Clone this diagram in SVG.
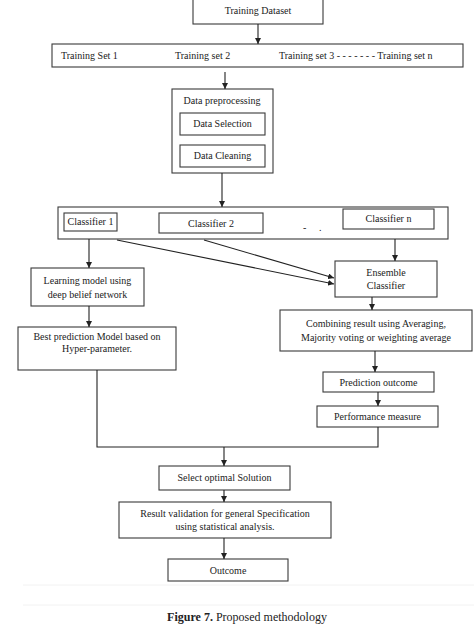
<svg xmlns="http://www.w3.org/2000/svg" width="474" height="642" viewBox="0 0 474 642">
<defs>
<marker id="ah" viewBox="0 0 10 10" refX="10" refY="5" markerWidth="6" markerHeight="6" markerUnits="userSpaceOnUse" orient="auto">
<path d="M0,0 L10,5 L0,10 z" fill="#222"/>
</marker>
<style>
.b{fill:#fff;stroke:#3a3a3a;stroke-width:1.1}
.t{font-family:"Liberation Serif","Times New Roman",serif;font-size:10px;fill:#222}
.m{text-anchor:middle}
.c{fill:none;stroke:#222;stroke-width:1.1}
.a{fill:none;stroke:#222;stroke-width:1.1;marker-end:url(#ah)}
</style>
</defs>
<rect width="474" height="642" fill="#fff"/>
<g id="training-dataset"><rect class="b" x="193" y="-2" width="130" height="26"/><text class="t m" x="258" y="14">Training Dataset</text></g>
<g id="training-sets"><rect class="b" x="52" y="44" width="411" height="23"/>
<text class="t" x="61" y="59">Training Set 1</text>
<text class="t" x="175" y="59">Training set 2</text>
<text class="t" x="279" y="59">Training set 3 - - - - - - - Training set n</text></g>
<g id="data-preprocessing"><rect class="b" x="172" y="89" width="101" height="84"/>
<text class="t m" x="222" y="104">Data preprocessing</text>
<rect class="b" x="180" y="113" width="85" height="22"/><text class="t m" x="222.5" y="127">Data Selection</text>
<rect class="b" x="180" y="145" width="85" height="22"/><text class="t m" x="222.5" y="159">Data Cleaning</text></g>
<g id="classifiers"><rect class="b" x="58" y="207" width="390" height="32"/>
<rect class="b" x="64" y="213" width="53" height="18"/><text class="t m" x="90.5" y="225">Classifier 1</text>
<rect class="b" x="159" y="213" width="104" height="20"/><text class="t m" x="211" y="227">Classifier 2</text>
<text class="t" x="303" y="231">-</text><text class="t" x="319" y="231">.</text>
<rect class="b" x="343" y="209" width="91" height="20"/><text class="t m" x="388.5" y="222">Classifier n</text></g>
<g id="learning-model"><rect class="b" x="31" y="268" width="113" height="38"/>
<text class="t m" x="87.5" y="284">Learning model using</text><text class="t m" x="87.5" y="298">deep belief network</text></g>
<g id="ensemble"><rect class="b" x="335" y="261" width="102" height="36"/>
<text class="t m" x="386" y="276">Ensemble</text><text class="t m" x="386" y="289">Classifier</text></g>
<g id="best-prediction"><rect class="b" x="18" y="327" width="158" height="43"/>
<text class="t m" x="97" y="340">Best prediction Model based on</text><text class="t m" x="97" y="352">Hyper-parameter.</text></g>
<g id="combining"><rect class="b" x="280" y="310" width="192" height="41"/>
<text class="t m" x="376" y="327">Combining result using Averaging,</text><text class="t m" x="376" y="341">Majority voting or weighting average</text></g>
<g id="prediction-outcome"><rect class="b" x="323" y="372" width="111" height="20"/><text class="t m" x="378.5" y="386">Prediction outcome</text></g>
<g id="performance-measure"><rect class="b" x="317" y="406" width="121" height="21"/><text class="t m" x="377.5" y="420">Performance measure</text></g>
<g id="select-optimal"><rect class="b" x="159" y="466" width="131" height="24"/><text class="t m" x="224.5" y="481">Select optimal Solution</text></g>
<g id="result-validation"><rect class="b" x="119" y="502" width="212" height="36"/>
<text class="t m" x="225" y="517">Result validation for general Specification</text><text class="t m" x="225" y="530">using statistical analysis.</text></g>
<g id="outcome"><rect class="b" x="168" y="559" width="120" height="22"/><text class="t m" x="228" y="574">Outcome</text></g>
<g id="connectors">
<line class="a" x1="258" y1="24" x2="258" y2="44"/>
<line class="a" x1="225" y1="72" x2="225" y2="89"/>
<line class="a" x1="222" y1="173" x2="222" y2="207"/>
<line class="a" x1="89" y1="239" x2="89" y2="268"/>
<line class="a" x1="117" y1="240" x2="334" y2="284"/>
<line class="a" x1="204" y1="240" x2="334" y2="278"/>
<line class="a" x1="395" y1="239" x2="395" y2="261"/>
<line class="a" x1="372" y1="297" x2="372" y2="310"/>
<line class="a" x1="89" y1="306" x2="89" y2="327"/>
<line class="a" x1="375" y1="351" x2="375" y2="372"/>
<line class="a" x1="378" y1="392" x2="378" y2="406"/>
<polyline class="c" points="97,370 97,447 378,447 378,427"/>
<line class="a" x1="224" y1="447" x2="224" y2="466"/>
<line class="a" x1="224" y1="490" x2="224" y2="502"/>
<line class="a" x1="224" y1="538" x2="224" y2="559"/>
</g>
<line x1="23" y1="585" x2="474" y2="585" stroke="#f2f2f2" stroke-width="1"/>
<line x1="23" y1="605" x2="474" y2="605" stroke="#f2f2f2" stroke-width="1"/>
<text x="247" y="621" text-anchor="middle" style="font-family:'Liberation Serif','Times New Roman',serif;font-size:12px;fill:#222"><tspan font-weight="bold">Figure 7.</tspan> Proposed methodology</text>
</svg>
